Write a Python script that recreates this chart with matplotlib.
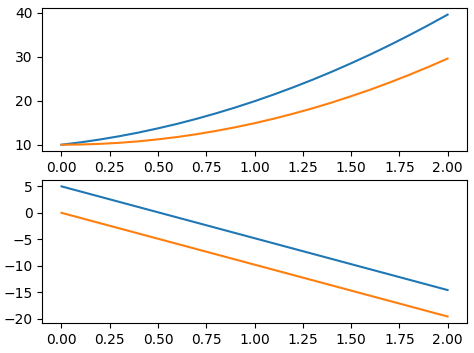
import matplotlib
matplotlib.use('Agg')
import matplotlib.pyplot as plt

# values
t = [0.0, 0.1, 0.2, 0.3, 0.4, 0.5, 0.6, 0.7, 0.8, 0.9, 1.0,
     1.1, 1.2, 1.3, 1.4, 1.5, 1.6, 1.7, 1.8, 1.9, 2.0]
pos_a = [10.0, 10.55, 11.2, 11.94, 12.78, 13.73, 14.76, 15.9, 17.14, 18.47, 19.9,
         21.43, 23.06, 24.78, 26.6, 28.53, 30.54, 32.66, 34.88, 37.19, 39.6]
pos_b = [10.0, 10.05, 10.2, 10.44, 10.78, 11.23, 11.76, 12.4, 13.14, 13.97, 14.9,
         15.93, 17.06, 18.28, 19.6, 21.03, 22.54, 24.16, 25.88, 27.69, 29.6]

t_line = [0.0, 2.0]
vel_a = [5.0, -14.6]
vel_b = [0.0, -19.6]

x_ticks = [0.0, 0.25, 0.5, 0.75, 1.0, 1.25, 1.5, 1.75, 2.0]
vel_ticks = [-20, -15, -10, -5, 0, 5]

fig, (ax_top, ax_bot) = plt.subplots(nrows=2, ncols=1, figsize=(4.74, 3.53), dpi=100)
plt.subplots_adjust(left=0.089, right=0.985, top=0.977, bottom=0.085, hspace=0.2)

ax_top.plot(t, pos_a)
ax_top.plot(t, pos_b)
ax_top.set_xticks(x_ticks)

ax_bot.plot(t_line, vel_a)
ax_bot.plot(t_line, vel_b)
ax_bot.set_xticks(x_ticks)
ax_bot.set_yticks(vel_ticks)

plt.savefig('out.png', dpi=100)
